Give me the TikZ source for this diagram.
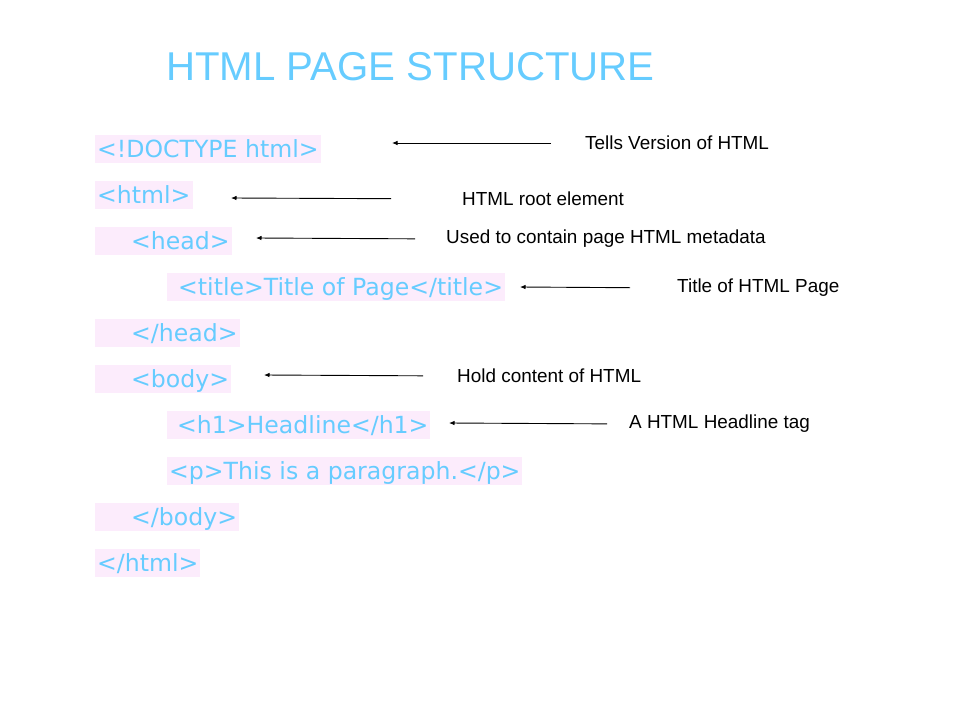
\documentclass[tikz,border=0pt]{standalone}
\usepackage{fontspec}
\setmainfont{Liberation Sans}
\newfontfamily\codefont{DejaVu Sans}
\usepackage{tikz}
\usetikzlibrary{positioning,arrows.meta}

\definecolor{codeblue}{RGB}{102,204,255}
\definecolor{pinkbg}{RGB}{252,236,252}

\begin{document}
\begin{tikzpicture}[
    x=1pt, y=-1pt,
    codeline/.style={fill=pinkbg, anchor=west, inner xsep=2pt, inner ysep=0pt,
                     text height=22pt, text depth=6pt, text=codeblue,
                     font=\codefont\fontsize{23.6}{26}\selectfont},
    note/.style={anchor=west, inner sep=0pt, font=\fontsize{18.9}{22}\selectfont},
    arr/.style={-{Latex[length=5.5pt,width=4.5pt]}, line width=0.9pt}
  ]
    \useasboundingbox (0,0) rectangle (960,720);
    % title
    \node[anchor=west, inner sep=0pt, text=codeblue,
          font=\fontsize{40.2}{44}\selectfont] (T) at (166,67) {HTML PAGE STRUCTURE};
    % code lines
    \node[codeline] (C1)  at (95,149) {<!DOCTYPE html>};
    \node[codeline] (C2)  at (95,195) {<html>};
    \node[codeline] (C3)  at (95,241) {\hspace*{34pt}<head>};
    \node[codeline] (C4)  at (167,287) {\hspace*{9pt}<title>Title of Page</title>};
    \node[codeline] (C5)  at (95,333) {\hspace*{34pt}</head>};
    \node[codeline] (C6)  at (95,379) {\hspace*{34pt}<body>};
    \node[codeline] (C7)  at (167,425) {\hspace*{8pt}<h1>Headline</h1>};
    \node[codeline] (C8)  at (167,471) {<p>This is a paragraph.</p>};
    \node[codeline] (C9)  at (95,517) {\hspace*{34pt}</body>};
    \node[codeline] (C10) at (95,563) {</html>};
    % notes
    \node[note] (N1) at (585,143) {Tells Version of HTML};
    \node[note] (N2) at (462,199) {HTML root element};
    \node[note] (N3) at (446,239) {Used to contain page HTML metadata};
    \node[note] (N4) at (677,288) {Title of HTML Page};
    \node[note] (N6) at (457,376) {Hold content of HTML};
    \node[note] (N7) at (629,424) {A HTML Headline tag};
    % arrow tips
    \coordinate (P1) at (392,143);
    \coordinate (P2) at (231,198);
    \coordinate (P3) at (256,238);
    \coordinate (P4) at (520,287);
    \coordinate (P6) at (264,375);
    \coordinate (P7) at (449,423);
    \draw[arr, shorten <=34pt] (N1.west) -- (P1);
    \draw[arr, shorten <=71pt] (N2.west) -- (P2);
    \draw[arr, shorten <=31pt] (N3.west) -- (P3);
    \draw[arr, shorten <=47pt] (N4.west) -- (P4);
    \draw[arr, shorten <=34pt] (N6.west) -- (P6);
    \draw[arr, shorten <=22pt] (N7.west) -- (P7);
\end{tikzpicture}
\end{document}
